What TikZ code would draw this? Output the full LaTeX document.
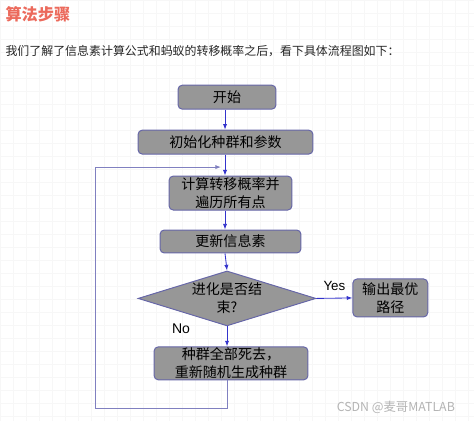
\documentclass[tikz,border=0pt]{standalone}
\usepackage{fontspec}
\setmainfont{Liberation Sans}
\newfontfamily\cjk{Noto Sans CJK SC}
\usetikzlibrary{shapes.geometric, arrows.meta, positioning}
\definecolor{titlered}{HTML}{EC6A5C}
\definecolor{boxgray}{HTML}{979797}
\definecolor{boxedge}{HTML}{6666A8}
\definecolor{flowblue}{HTML}{3333CC}
\definecolor{loopblue}{HTML}{8080C0}
\definecolor{markgray}{HTML}{B4B4B4}
\tikzset{
  stepbox/.style={
    rectangle, draw=boxedge, fill=boxgray, rounded corners=3pt,
    font=\cjk\fontsize{10}{12.5}\selectfont, align=center,
    line width=0.7pt, inner sep=0pt
  },
  decision/.style={
    diamond, draw=boxedge, fill=boxgray, aspect=3.2,
    font=\cjk\fontsize{10}{12.5}\selectfont, align=center,
    line width=0.7pt, inner sep=0pt
  },
  flow/.style={-{Latex[length=4pt, width=3pt]}, flowblue, line width=0.6pt},
}

\begin{document}
\begin{tikzpicture}[x=0.025cm, y=-0.025cm]

% page and faint grid
\fill[white] (0,0) rectangle (474,421);
\draw[black!3, step=0.325cm] (0,0) grid (474,421);

% header texts
\node[font=\cjk\bfseries\fontsize{11.5}{13}\selectfont, text=titlered, anchor=west, inner sep=0pt] (title) at (5,14) {算法步骤};
\node[font=\cjk\fontsize{8.5}{10}\selectfont, text=black!85, anchor=west, inner sep=0pt] (intro) at (5,51) {我们了解了信息素计算公式和蚂蚁的转移概率之后，看下具体流程图如下：};

% flow chart
\node[stepbox, minimum width=2.45cm, minimum height=0.6cm] (start) at (227,97) {开始};
\node[stepbox, minimum width=4.375cm, minimum height=0.6cm] (init) at (225.5,142) {初始化种群和参数};
\node[stepbox, minimum width=3.075cm, minimum height=0.85cm] (calc) at (230.5,193) {计算转移概率并\\遍历所有点};
\node[stepbox, minimum width=3.525cm, minimum height=0.575cm] (update) at (230.5,241.5) {更新信息素};
\node[decision, minimum width=4.45cm, minimum height=1.375cm] (check) at (227,298.5) {进化是否结\\束?};
\node[stepbox, minimum width=1.875cm, minimum height=0.95cm] (best) at (390.5,298) {输出最优\\路径};
\node[stepbox, minimum width=3.85cm, minimum height=0.825cm] (reset) at (231,363.5) {种群全部死去，\\重新随机生成种群};

% labels
\node[font=\fontsize{9.5}{11}\selectfont, inner sep=0pt] (yes) at (334.5,286) {Yes};
\node[font=\fontsize{10}{12}\selectfont, inner sep=0pt] (no) at (181,329) {No};

% arrows
\draw[flow] (start.south -| 225,0) -- (init.north -| 225,0);
\draw[flow] (init.south -| 225,0) -- (calc.north -| 225,0);
\draw[flow] (calc.south -| 225,0) -- (update.north -| 225,0);
\draw[flow] (update.south -| 225,0) -- (check.north);
\draw[flow] (check.east) -- (best.west);
\draw[flow] (check.south) -- (reset.north -| check.south);

% loop back
\coordinate (loopin) at (221,167);
\draw[-{Latex[length=4pt, width=3pt]}, loopblue, line width=0.7pt]
  (reset.south -| 227,0) -- (227,409) -- (95,409) |- (loopin);

% watermark
\node[font=\cjk\fontsize{8.8}{10}\selectfont, text=markgray, inner sep=0pt] (mark) at (396,407.5) {CSDN @麦哥MATLAB};

\end{tikzpicture}
\end{document}
